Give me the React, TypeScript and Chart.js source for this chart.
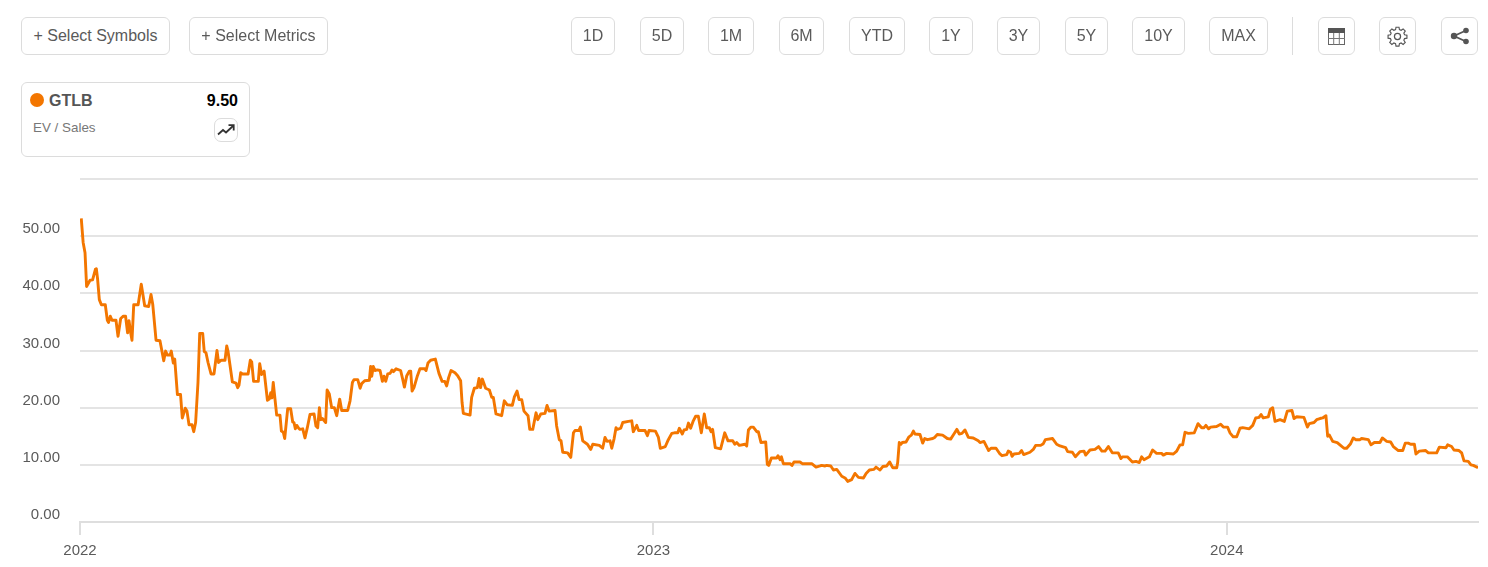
import React, { useEffect, useRef } from "react";
import { Chart, registerables } from "chart.js";

Chart.register(...registerables);

const days: number[] = [
0.8,2,3.2,4.2,6.4,8,9.8,10.4,11.2,12.3,13.6,16.1,17.4,18.2,19.3,20.4,22.9,24.2,25.9,27.6,29,30.3,31.2,32.3,33.1,34.2,37,39,41.2,43.7,45.2,46.3,48.4,50.9,53.3,54.5,55.6,57.3,58.1,59.4,60.3,62,64,65.1,67,68.1,69.4,71.3,72.4,73.6,75.1,76.2,78.1,79.1,80.2,81.5,83.4,85.3,87.2,88.2,89.9,92.3,93.4,94.2,97,99.3,100.4,101.2,102.3,103.5,107,108.4,109.3,110.5,113.5,114.4,115.6,117.2,119.3,120.5,121.4,122.2,123,125.2,127.3,128.2,129.4,130.3,132.2,134.1,135.4,136.2,137.1,138,139.2,
140,141.8,143.2,144.7,146.4,149,150.2,151.3,152.4,153.2,154.3,156.4,157.3,158.7,160.2,161.9,163.4,165.3,166.6,170.4,171.9,173.4,174.4,176.8,178.3,179.3,181.2,184.2,185,185.7,186.7,187.8,189.3,191,192.5,193.5,194.6,195.9,197.4,198.6,199.5,201.2,204.1,205.4,206.5,208,209.7,210.5,211.4,212.6,214.8,216.4,219.4,220.3,221.5,223.2,226.2,228.5,230.5,232.2,233.4,234.7,236.2,238.7,240.4,242.3,243.2,244,248.3,249.3,251,252.9,254,255,256.1,258.2,260.6,262.1,263.1,264.8,268.4,270.1,272,275.2,276.5,278.2,279.5,281.2,282.6,285.2,286.3,288.2,290.3,291.4,293.3,296,297.3,298.6,302.4,303.4,305.1,306.2,307.3,310.4,312.4,314.1,315.1,317.5,318.5,
320,323,325.1,326.4,330.6,332.7,334.2,335.5,337.4,338.5,340,341.2,342.1,344.2,345.5,349.1,351.2,352.2,354.4,355.6,359.7,361.2,362.2,366.3,368.2,369.4,372.6,374.5,376.7,378.4,380.5,381.5,383.4,384.5,386.2,387.3,388.7,390.4,391.9,393.6,395.5,397.4,398.9,400.6,401.7,402.7,404.4,407.8,410.4,412.5,415.5,416.8,418,419.7,423.3,424.4,425.5,427,428.6,430.8,431.8,433.5,436.5,437.5,438.4,440.1,443.5,444.3,445.6,446.5,447.7,452,453.2,454.5,458.3,459.8,465.8,468.5,471.1,472.1,474.3,475.3,477.9,479.6,481.7,484.9,487,488.7,491.2,493.3,495.5,498.7,500.4,502.5,505.4,506.7,508.2,509.3,511,513.5,515.4,517.3,519.9,520.5,
521.5,522.6,523.4,525.8,527.7,529.2,530.5,531.5,534.7,536.4,537.7,539.4,542.8,544,545.7,549.1,552.1,554.2,556.3,558.2,559.7,561.4,563.3,565.5,568.6,571.8,572.9,575.4,578.4,579.9,583.1,585.6,586.9,589.9,590.9,592.4,593.3,594.5,597.9,599.4,600.7,604.7,606.8,608.3,611.5,613.2,614.5,619.1,621.7,623.8,627.4,628.7,631.7,633.6,636.5,639.1,640.2,642.9,646.1,648.4,650.5,652.5,654.6,657.1,660.9,662.6,663.5,666.7,669.9,672.2,674.3,675.8,677.3,680.7,682.8,685.3,688.5,689.6,691.7,696,698.1,
700.2,701.9,703.4,705.5,709.3,711.7,714,715.5,716.7,718.4,719.7,723.5,726.1,727.8,730.5,732,734.1,736.3,738.4,740.1,744.3,746.5,748.4,750.5,751.8,753.2,756.4,757.7,759.2,760.7,763.9,766.6,768.5,771.5,772.8,774.5,779.1,781.3,782.5,785.5,787.2,789.3,791,793.1,794.2,795.3,797.4,800.3,802,804.6,806.3,808.8,810.5,812.2,814.8,815.8,820.1,821.8,823.9,827.5,829,831.8,834.3,836,839.2,842,843.6,845.5,847,849.4,850.4,852.5,856.6,858.3,863.6,865.3,869.5,870.6,873.1,874.6,877.8,879.5,881,883.7,885.4,886.9,889.9
];

const evSales: number[] = [
53.1,48.9,47.1,41.2,42.3,42.35,44.2,44.3,42.5,38.9,38,38,35.3,34.9,36,35.3,35.3,32.5,35.6,36,36,33.1,35.2,33,31.8,38,38,41.6,37.8,37.7,39.8,38.1,31.8,31.7,28.2,29.9,29.2,29.2,29.9,27.8,28.5,22.3,22.3,18.2,19.9,19.4,17,17,15.8,17.4,24.4,33,33,29.8,29.6,27.9,25.9,25.9,30,27.9,28.3,28.3,30.8,29.9,24.5,24.3,23.5,23.9,26.1,25.9,25.9,28.3,28,24.6,24.6,27.7,25.8,26.4,21.3,21.5,22.6,21.7,24.4,18.7,18.7,15.9,15.7,14.6,19.8,19.8,17.5,17.4,16.3,16.9,16.4,
16.2,16.3,14.7,16.5,18.8,18.9,16.8,16.5,20,17.9,18.1,17.4,23.1,22.4,20,20,18.6,21.5,19.5,19.5,21.2,24.4,24.9,24.9,23.4,24.2,24.7,24.8,27.2,25.5,27.2,26.5,26.6,26.5,24.6,25.5,24.6,25.9,26,26.6,26.3,26.8,26.5,25,23.6,25.6,26.4,26.4,22.9,23.5,25.6,26.8,26.8,26.5,27.8,28.3,28.5,26,24.6,24.6,23.8,25.3,26.5,26.1,25.6,24.7,20.9,19,18.7,21.8,23.4,23.5,25.1,23.5,25,23.4,23.1,21.8,21.8,18.9,18.6,21.2,20.5,20.4,21.9,22.9,21.4,21.4,19.4,18.6,16.2,16.2,19.1,17.9,18.9,19,20.4,19.4,19.5,16.8,14.4,14.2,12.2,12.1,11.3,15.6,16,16,16.6,
14.2,13.6,12.7,13.6,13.4,12.9,14.8,14.1,14.2,12.9,14.6,16.5,16.2,16.4,17.4,17.6,17.7,15.8,16.9,16,16,15.1,16,15.9,14.8,12.9,13.2,14.4,15.5,15.6,15.6,16.4,15.4,16.1,16.2,17.3,16.4,17.7,18.5,18.5,15.6,18.9,16.5,16.5,15.8,16.2,13,12.8,15.6,14.2,14.2,13.6,13.9,13.4,13.6,13.3,16.1,16.6,16.6,15.8,15.8,13.9,14,10.1,9.9,11.2,11.2,11.6,10.9,11.4,10.2,10.2,9.9,10.5,10.5,10.2,10.2,9.6,9.8,9.9,9.8,9.9,9.8,9.1,9.2,8,7.7,7.1,7.4,8.5,7.8,7.7,8.5,9.1,9.2,9.6,9.3,9.1,9.7,9.8,10.5,9.5,9.5,10.4,
13.9,13.6,13.9,14,14.9,15.2,15.9,15.4,15.3,13.8,14.6,14.4,14.6,14.8,15.3,15.2,14.6,14.5,15.4,16.2,15.4,15.5,16.1,14.8,14.7,14.2,13.9,14.1,12.5,12.9,12.9,11.9,11.6,11.8,12.4,12.2,11.5,11.9,12,12.5,11.8,12.2,12.7,13.4,13.4,13.7,14.4,14.6,13.6,13.3,13,12.3,12.2,11.4,12.3,12.4,11.7,12.6,12.7,13.2,12.4,12.4,13.2,12.1,12.1,11.1,11.4,11.4,10.5,10.6,10.4,11.4,10.9,11.4,12.6,12,12,11.7,12,11.9,12.4,
13.5,13.5,15.7,15.5,15.6,17.2,16.5,16.5,16.9,16.3,16.6,16.7,17.1,16.6,16.6,15.6,14.9,14.9,16.4,16.5,16.3,16.9,18.2,18.3,18.8,18.2,18.4,19.7,20,17.6,17.9,17.6,19.4,19.5,18.1,18.4,18.3,16.6,17.2,17.4,17.9,18.1,18.2,18.6,15,15.2,14.1,13.9,13.5,12.9,12.9,13.7,14.7,14.4,14.4,14.6,14.4,13.5,13.9,13.9,14.7,14.1,14,13.2,12.5,12.5,13.8,13.8,13.6,13.6,11.9,12.4,12.5,12.1,12.1,13.1,13,13.5,13.2,12.6,12.5,12.1,10.7,10.6,10,9.9,9.5
];

const yearLabels: string[] = ["2022", "2023", "2024"];
const yearTickDays: number[] = [0, 365, 730];
const lastDay = 889.9;
const yTicksShown: number[] = [0, 10, 20, 30, 40, 50];
const symbolName = "GTLB";
const metricName = "EV / Sales";
const lastValue = "9.50";
const rangeLabels: string[] = ["1D", "5D", "1M", "6M", "YTD", "1Y", "3Y", "5Y", "10Y", "MAX"];
const rangeBoxes: [number, number][] = [[571, 615], [640, 684], [708, 754], [779, 824], [849, 905], [929, 973], [997, 1040], [1065, 1108], [1132, 1185], [1209, 1268]];

const ORANGE = "#f37600";
const FONT = '"Liberation Sans", Arial, sans-serif';
const BORDER = "1px solid #dcdcdc";

const boxStyle = (left: number, right: number, top: number, bottom: number): React.CSSProperties => ({
  position: "absolute",
  left,
  top,
  width: right - left,
  height: bottom - top,
  boxSizing: "border-box",
  border: BORDER,
  borderRadius: 6,
  display: "flex",
  alignItems: "center",
  justifyContent: "center",
  fontSize: 16,
  color: "#5a5a5a",
  background: "#fff",
  whiteSpace: "nowrap",
});

export default function App() {
  const ref = useRef<HTMLCanvasElement | null>(null);

  useEffect(() => {
    const canvas = ref.current;
    if (!canvas) return;
    const chart = new Chart(canvas, {
      type: "line",
      data: {
        datasets: [
          {
            label: symbolName,
            data: days.map((d, i) => ({ x: d, y: evSales[i] })),
            borderColor: ORANGE,
            borderWidth: 2.9,
            pointRadius: 0,
            tension: 0,
            borderJoinStyle: "round",
          },
        ],
      },
      options: {
        animation: false,
        responsive: false,
        parsing: false,
        normalized: true,
        layout: { padding: { left: 0, right: 10, top: 179, bottom: 0 } },
        plugins: { legend: { display: false }, tooltip: { enabled: false } },
        scales: {
          x: {
            type: "linear",
            min: 0,
            max: lastDay,
            afterBuildTicks: (scale: any) => {
              scale.ticks = yearTickDays.map((v) => ({ value: v }));
            },
            afterFit: (scale: any) => {
              scale.height = 45;
            },
            grid: { drawOnChartArea: false, drawTicks: true, tickLength: 13, color: "#dedede", lineWidth: 2 },
            border: { display: true, color: "#dedede", width: 2 },
            ticks: {
              autoSkip: false,
              maxRotation: 0,
              padding: 7,
              color: "#5a5a5a",
              font: { family: FONT, size: 15 },
              callback: (v: any) => {
                const i = yearTickDays.indexOf(Number(v));
                return i >= 0 ? yearLabels[i] : "";
              },
            },
          },
          y: {
            type: "linear",
            min: 0,
            max: 60,
            afterFit: (scale: any) => {
              scale.width = 80;
            },
            grid: { drawTicks: false, color: "#e4e4e4", lineWidth: 2 },
            border: { display: false },
            ticks: {
              stepSize: 10,
              padding: 20,
              labelOffset: -7,
              color: "#5a5a5a",
              font: { family: FONT, size: 15 },
              callback: (v: any) => (yTicksShown.includes(Number(v)) ? Number(v).toFixed(2) : ""),
            },
          },
        },
      },
    });
    return () => chart.destroy();
  }, []);

  return (
    <div style={{ position: "fixed", left: 0, top: 0, width: 1488, height: 567, background: "#fff", fontFamily: FONT, overflow: "hidden" }}>
      <canvas ref={ref} width={1488} height={567} style={{ position: "absolute", left: 0, top: 0, width: 1488, height: 567 }} />

      <div style={boxStyle(21, 170, 17, 55)}>+ Select Symbols</div>
      <div style={boxStyle(189, 328, 17, 55)}>+ Select Metrics</div>

      {rangeLabels.map((r, i) => (
        <div key={r} style={boxStyle(rangeBoxes[i][0], rangeBoxes[i][1], 17, 55)}>{r}</div>
      ))}

      <div style={{ position: "absolute", left: 1292, top: 17, width: 1, height: 38, background: "#dcdcdc" }} />

      <div style={boxStyle(1318, 1355, 17, 55)}>
        <svg width="17" height="17" viewBox="0 0 17 17">
          <rect x="0.5" y="0.5" width="16" height="16" fill="#fff" stroke="#666" />
          <rect x="0" y="0" width="17" height="5" fill="#555" />
          <path d="M0 10.5H17M5.7 5V17M11.3 5V17" stroke="#777" strokeWidth="1" />
        </svg>
      </div>
      <div style={boxStyle(1379, 1416, 17, 55)}>
        <svg width="23" height="23" viewBox="0 0 24 24" fill="none" stroke="#555" strokeWidth="1.3">
          <circle cx="12" cy="12" r="3.2" />
          <path d="M10.3 2.5h3.4l.5 2.7 1.9.8 2.3-1.6 2.4 2.4-1.6 2.3.8 1.9 2.7.5v3.4l-2.7.5-.8 1.9 1.6 2.3-2.4 2.4-2.3-1.6-1.9.8-.5 2.7h-3.4l-.5-2.7-1.9-.8-2.3 1.6-2.4-2.4 1.6-2.3-.8-1.9-2.7-.5v-3.4l2.7-.5.8-1.9-1.6-2.3 2.4-2.4 2.3 1.6 1.9-.8z" transform="translate(12 12) scale(0.92) translate(-12 -13)" />
        </svg>
      </div>
      <div style={boxStyle(1441, 1478, 17, 55)}>
        <svg width="20" height="18" viewBox="0 0 20 18">
          <path d="M16 3.5L4 9L16 14.5" stroke="#555" strokeWidth="1.8" fill="none" />
          <circle cx="16" cy="3.5" r="2.8" fill="#555" />
          <circle cx="4" cy="9" r="3.2" fill="#555" />
          <circle cx="16" cy="14.5" r="2.8" fill="#555" />
        </svg>
      </div>

      <div style={{ position: "absolute", left: 21, top: 82, width: 229, height: 75, boxSizing: "border-box", border: BORDER, borderRadius: 6, background: "#fff" }} />
      <div style={{ position: "absolute", left: 30, top: 93, width: 14, height: 14, borderRadius: "50%", background: ORANGE }} />
      <div style={{ position: "absolute", left: 49, top: 92, fontSize: 16, lineHeight: "18px", fontWeight: 700, color: "#555" }}>{symbolName}</div>
      <div style={{ position: "absolute", right: 1488 - 238, top: 92, fontSize: 16, lineHeight: "18px", fontWeight: 700, color: "#000" }}>{lastValue}</div>
      <div style={{ position: "absolute", left: 33, top: 120, fontSize: 13.4, lineHeight: "15px", color: "#777" }}>{metricName}</div>
      <div style={{ position: "absolute", left: 214, top: 118, width: 24, height: 24, boxSizing: "border-box", border: BORDER, borderRadius: 7, display: "flex", alignItems: "center", justifyContent: "center" }}>
        <svg width="18" height="12" viewBox="0 0 18 12" fill="none" stroke="#333" strokeWidth="1.8">
          <path d="M1 10.5L6 6L9 8.5L16 2" />
          <path d="M11.5 1.2H16.7V6.4" />
        </svg>
      </div>
    </div>
  );
}
